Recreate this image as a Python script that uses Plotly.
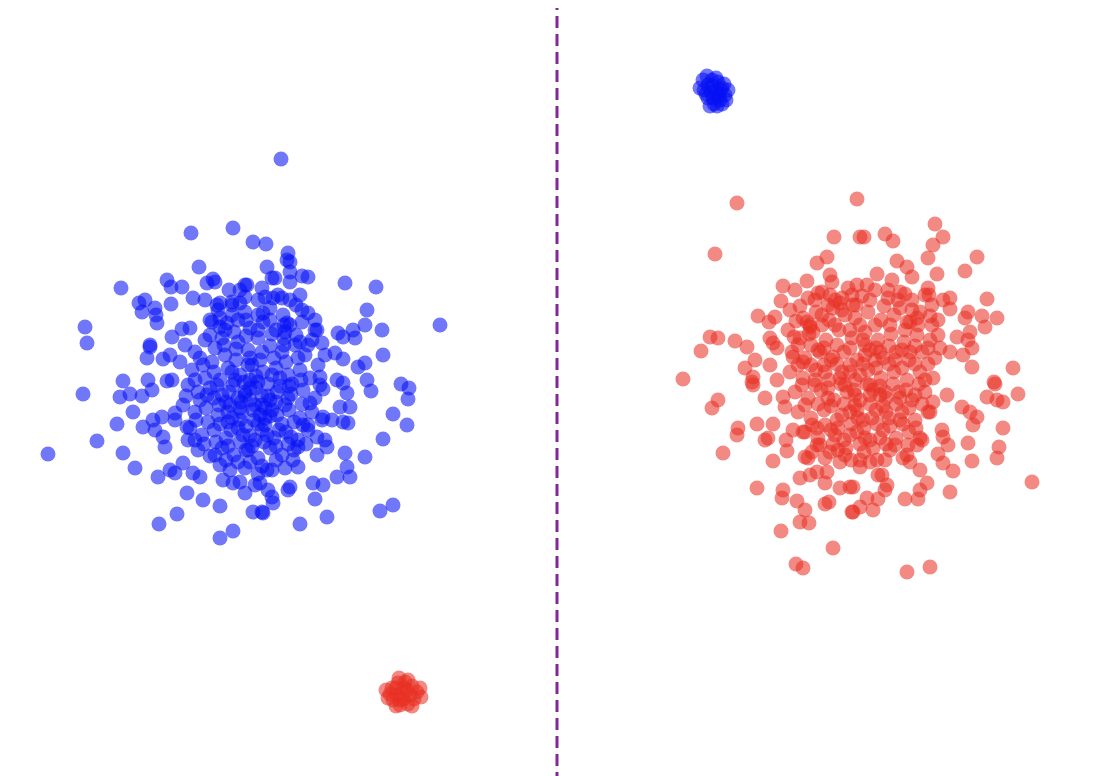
import plotly.graph_objects as go

# Points (pixel-like units, y grows downward)
blue_pts = [
    (191, 233), (233, 228), (253, 242), (266, 244), (199, 267), (121, 288), (167, 280), (171, 287),
    (182, 287), (193, 298), (171, 304), (207, 283), (213, 279), (215, 282), (229, 290), (245, 285),
    (139, 303), (145, 300), (155, 308), (142, 312), (156, 315), (157, 323), (85, 327), (87, 343),
    (210, 320), (220, 327), (227, 323), (182, 329), (190, 328), (217, 305), (220, 303), (232, 302),
    (240, 303), (172, 337), (150, 345),
    (281, 159), (288, 253), (287, 260), (290, 262), (267, 267), (272, 278), (275, 278), (290, 282),
    (290, 272), (302, 276), (308, 277), (345, 283), (376, 287), (367, 310), (365, 325), (382, 330),
    (440, 325), (247, 285), (245, 297), (265, 297), (273, 298), (282, 298), (290, 300), (302, 310),
    (308, 313), (315, 320), (317, 330), (287, 323), (285, 332), (263, 313), (338, 333), (343, 337),
    (353, 330), (355, 338), (322, 343), (300, 342),
    (150, 347), (147, 358), (163, 359), (123, 381), (148, 380), (167, 381), (152, 390), (83, 394),
    (120, 397), (130, 394), (142, 396), (133, 412), (117, 424), (97, 441), (48, 454), (123, 453),
    (135, 468), (143, 427), (153, 420), (162, 417), (155, 430), (163, 437), (165, 447), (175, 413),
    (158, 477), (170, 470), (175, 473), (183, 463), (193, 473), (200, 477), (187, 493), (203, 500),
    (220, 506), (177, 514), (159, 524), (220, 538), (233, 531), (188, 440), (195, 440), (187, 427),
    (223, 480), (233, 483), (245, 493),
    (383, 355), (335, 353), (343, 359), (358, 367), (365, 363), (367, 380), (371, 391), (401, 384),
    (409, 388), (408, 399), (393, 414), (407, 425), (383, 439), (320, 377), (337, 380), (343, 383),
    (323, 389), (347, 393), (350, 407), (340, 407), (332, 420), (323, 417), (343, 422), (348, 423),
    (317, 437), (325, 440), (327, 447), (345, 453), (365, 457), (317, 455), (337, 477), (350, 477),
    (347, 467), (313, 483), (323, 485), (315, 499), (327, 517), (300, 524), (380, 511), (393, 505),
    (290, 487), (288, 490), (272, 497), (273, 503), (262, 512), (263, 513), (253, 512), (298, 467),
    (293, 460), (298, 447), (308, 425), (310, 403), (267, 470), (260, 483),
    (185, 345), (195, 352), (205, 340), (215, 348), (225, 355), (238, 342), (248, 350), (258, 338),
    (270, 346), (282, 352), (295, 345), (305, 355), (312, 340), (180, 362), (192, 370), (203, 365),
    (214, 372), (228, 368), (240, 375), (252, 365), (263, 372), (276, 368), (288, 375), (300, 370),
    (310, 378), (318, 365), (188, 385), (198, 392), (210, 388), (222, 395), (233, 385), (245, 392),
    (256, 388), (268, 396), (280, 386), (291, 394), (303, 390), (315, 398), (183, 405), (195, 412),
    (206, 408), (218, 415), (230, 405), (242, 412), (254, 420), (265, 408), (277, 415), (289, 410),
    (300, 418), (312, 412), (190, 428), (202, 435), (214, 430), (226, 438), (238, 428), (250, 436),
    (262, 430), (274, 438), (286, 432), (298, 440), (308, 430), (198, 450), (210, 456), (222, 448),
    (234, 455), (246, 450), (258, 458), (270, 448), (282, 455), (294, 450), (205, 300), (218, 310),
    (232, 305), (245, 312), (258, 300), (270, 308), (283, 315), (296, 305), (240, 290), (262, 288),
    (278, 295), (300, 295), (212, 322), (225, 330), (238, 320), (250, 328), (263, 322), (276, 330),
    (290, 325), (302, 322), (315, 330), (230, 470), (245, 468), (258, 474), (272, 470), (240, 482),
    (255, 485), (268, 490), (220, 465), (285, 468), (175, 420), (172, 380), (320, 385), (322, 420),
    (170, 355), (325, 355), (250, 400), (255, 405), (245, 395), (260, 415), (240, 420), (265, 425),
    (235, 380), (258, 382), (270, 400), (228, 412),
    (200, 358), (212, 362), (224, 345), (236, 360), (250, 358), (262, 352), (274, 358), (286, 362),
    (298, 358), (186, 396), (200, 400), (214, 398), (226, 402), (238, 398), (250, 388), (262, 396),
    (276, 402), (288, 398), (302, 404), (196, 420), (208, 422), (220, 424), (232, 418), (246, 426),
    (258, 424), (270, 416), (282, 424), (294, 422), (306, 444), (204, 444), (216, 442), (228, 446),
    (240, 442), (252, 446), (264, 442), (276, 446), (288, 444), (220, 380), (232, 372), (244, 382),
    (256, 376), (268, 384), (280, 378), (292, 384), (210, 335), (222, 338), (234, 332), (246, 336),
    (258, 330), (272, 334), (284, 338), (226, 460), (238, 462), (250, 462), (262, 466), (276, 460),
    (205, 378), (217, 385), (229, 392), (241, 402), (253, 410), (265, 418), (277, 392), (289, 386),
    (301, 380), (195, 380), (207, 395), (219, 405), (231, 430), (243, 435), (255, 440), (267, 435),
    (279, 430), (291, 437), (303, 425), (215, 455), (236, 349), (248, 365), (260, 360), (272, 375),
    (284, 345), (296, 335), (308, 345), (220, 318), (232, 315), (246, 320), (258, 315), (270, 320),
    (284, 325), (250, 380), (262, 405), (240, 408), (228, 422), (272, 410), (285, 405), (248, 450),
]

red_pts = [
    (737, 203), (857, 199), (834, 237), (860, 237), (715, 254), (817, 263), (827, 257), (830, 275),
    (832, 282), (807, 281), (783, 286), (781, 301), (818, 293), (800, 306), (758, 316), (769, 322),
    (775, 317), (796, 321), (807, 322), (810, 327), (822, 315), (833, 308), (840, 303), (852, 295),
    (853, 305), (710, 337), (718, 338), (735, 341), (747, 347), (701, 351), (770, 338), (773, 343),
    (777, 348), (794, 337), (809, 334), (755, 360), (745, 368), (770, 365), (777, 380), (683, 379),
    (793, 357), (803, 362), (820, 352), (833, 357), (753, 377),
    (935, 224), (864, 237), (885, 234), (893, 241), (943, 237), (933, 245), (928, 258), (977, 257),
    (965, 271), (897, 261), (907, 267), (912, 277), (937, 274), (877, 274), (892, 280), (888, 290),
    (928, 288), (929, 295), (905, 294), (943, 300), (950, 298), (950, 309), (987, 299), (857, 285),
    (867, 285), (968, 312), (965, 318), (982, 316), (997, 318), (985, 327), (930, 316), (938, 320),
    (932, 325), (938, 335), (957, 337), (970, 332), (972, 348), (968, 340), (917, 318), (900, 308),
    (910, 322), (1013, 368), (994, 382), (972, 367), (963, 355), (950, 352), (940, 348),
    (752, 382), (753, 385), (765, 398), (718, 400), (712, 408), (783, 397), (785, 407), (738, 428),
    (737, 435), (757, 424), (773, 424), (765, 440), (768, 438), (786, 440), (787, 451), (723, 453),
    (773, 461), (805, 457), (808, 458), (800, 478), (810, 475), (757, 488), (783, 490), (782, 498),
    (797, 501), (805, 510), (800, 522), (809, 523), (781, 531), (825, 483), (840, 488), (850, 487),
    (825, 504), (829, 502), (852, 512), (833, 548), (796, 564), (803, 568), (817, 472), (827, 472),
    (817, 445), (830, 452), (840, 462), (793, 430), (803, 432), (817, 428),
    (995, 384), (987, 397), (997, 400), (1003, 402), (1018, 394), (977, 417), (973, 425), (1003, 428),
    (968, 443), (972, 461), (999, 447), (997, 458), (1032, 482), (948, 445), (938, 454), (943, 463),
    (953, 471), (950, 492), (942, 430), (943, 437), (962, 407), (970, 412), (927, 483), (920, 490),
    (918, 499), (905, 499), (920, 470), (910, 462), (907, 455), (878, 475), (887, 485), (882, 475),
    (885, 490), (860, 467), (853, 487), (878, 499), (867, 498), (873, 510), (860, 507), (853, 512),
    (907, 572), (930, 567), (917, 445), (920, 438), (930, 412), (933, 402), (947, 395),
    (795, 290), (808, 298), (822, 292), (835, 300), (848, 288), (862, 296), (875, 290), (888, 298),
    (900, 292), (912, 300), (925, 295), (790, 310), (803, 318), (816, 312), (829, 320), (842, 310),
    (855, 318), (868, 312), (881, 320), (894, 315), (907, 322), (920, 312), (932, 305), (788, 330),
    (800, 338), (813, 332), (826, 340), (839, 330), (852, 338), (865, 332), (878, 340), (891, 334),
    (904, 342), (917, 335), (930, 340), (792, 352), (805, 358), (818, 350), (831, 360), (844, 352),
    (857, 360), (870, 350), (883, 358), (896, 352), (909, 360), (922, 352), (935, 358), (790, 372),
    (803, 378), (816, 370), (829, 380), (842, 372), (855, 380), (868, 370), (881, 378), (894, 372),
    (907, 380), (920, 372), (933, 378), (795, 392), (808, 398), (821, 390), (834, 400), (847, 392),
    (860, 400), (873, 390), (886, 398), (899, 392), (912, 400), (925, 392), (798, 412), (811, 418),
    (824, 410), (837, 420), (850, 412), (863, 420), (876, 410), (889, 418), (902, 412), (915, 420),
    (928, 412), (805, 432), (818, 438), (831, 430), (844, 440), (857, 432), (870, 440), (883, 430),
    (896, 438), (909, 432), (922, 440), (812, 452), (825, 458), (838, 450), (851, 460), (864, 452),
    (877, 460), (890, 450), (903, 458), (860, 375), (870, 385), (850, 365), (875, 360), (845, 385),
    (880, 395), (865, 345), (855, 405),
    (815, 300), (828, 305), (842, 298), (856, 305), (870, 300), (884, 306), (898, 300), (912, 310),
    (798, 345), (811, 345), (824, 348), (837, 345), (850, 348), (863, 340), (876, 348), (889, 346),
    (902, 350), (915, 346), (928, 348), (798, 365), (811, 365), (824, 365), (837, 364), (850, 372),
    (863, 364), (876, 368), (889, 364), (902, 368), (915, 364), (928, 364), (802, 385), (815, 385),
    (828, 388), (841, 384), (854, 390), (867, 384), (880, 386), (893, 384), (906, 390), (919, 384),
    (805, 405), (818, 404), (831, 406), (844, 404), (857, 410), (870, 404), (883, 406), (896, 404),
    (909, 408), (922, 404), (812, 425), (825, 425), (838, 428), (851, 424), (864, 428), (877, 424),
    (890, 426), (903, 424), (916, 428), (820, 445), (833, 444), (846, 448), (860, 444), (873, 448),
    (886, 444),
    (830, 295), (845, 315), (860, 325), (875, 325), (890, 325), (905, 330), (918, 325), (810, 325),
    (822, 325), (835, 325), (850, 330), (865, 355), (880, 352), (895, 360), (910, 352), (825, 372),
    (840, 378), (855, 395), (870, 395), (885, 392), (900, 398), (915, 395), (828, 398), (842, 415),
    (858, 418), (872, 418), (886, 412), (900, 420), (835, 435), (850, 435), (865, 438), (880, 438),
    (895, 445), (908, 445), (845, 455), (860, 460), (870, 462), (885, 460), (815, 380), (925, 380),
]

# tight little clumps
blue_tight = [
    (708, 85), (712, 80), (718, 82), (722, 88), (725, 95), (720, 100), (714, 104), (708, 98),
    (704, 90), (716, 92), (711, 92), (719, 95), (717, 106), (724, 84), (706, 94), (713, 86),
    (700, 88), (703, 80), (728, 90), (726, 100), (710, 106), (722, 104), (707, 76), (716, 78),
    (713, 98), (720, 90),
]
red_tight = [
    (392, 688), (398, 683), (405, 682), (412, 686), (417, 692), (414, 699), (408, 704), (400, 705),
    (393, 700), (390, 694), (402, 693), (407, 690), (397, 695), (410, 695), (403, 699), (396, 688),
    (386, 690), (388, 698), (420, 688), (421, 697), (412, 706), (396, 706), (399, 678), (408, 680),
    (404, 688), (400, 700),
]

divider_x = 557

BLUE = "rgb(5,15,245)"
RED = "rgb(233,48,36)"

# the page body has an 8px margin, so the ranges are offset by it
PAGE_PAD = 8

fig = go.Figure()

for pts, color in [(blue_pts, BLUE), (blue_tight, BLUE), (red_pts, RED), (red_tight, RED)]:
    fig.add_trace(go.Scatter(
        x=[p[0] for p in pts],
        y=[p[1] for p in pts],
        mode="markers",
        marker=dict(size=15, color=color, opacity=0.57, line=dict(width=0)),
        hoverinfo="skip",
        showlegend=False,
    ))

fig.add_vline(x=divider_x, line=dict(color="rgb(128,40,150)", width=3, dash="12px,6px"))

fig.update_layout(
    width=1108,
    height=776,
    margin=dict(l=0, r=0, t=0, b=0),
    paper_bgcolor="white",
    plot_bgcolor="white",
    xaxis=dict(range=[PAGE_PAD, 1108 + PAGE_PAD], visible=False),
    yaxis=dict(range=[776 + PAGE_PAD, PAGE_PAD], visible=False),
)

fig.write_html("out.html")
